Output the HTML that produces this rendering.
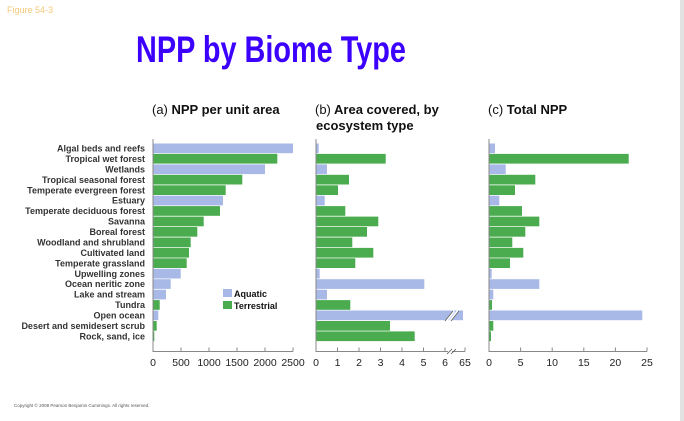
<!DOCTYPE html>
<html><head><meta charset="utf-8"><style>
html,body{margin:0;padding:0;background:#fff;}
svg{display:block;font-family:"Liberation Sans",Arial,sans-serif;}
</style></head><body>
<svg width="684" height="421" viewBox="0 0 684 421" xmlns="http://www.w3.org/2000/svg">
<rect x="680" y="0" width="4" height="421" fill="#e2e2e2"/>
<text x="7" y="13" font-size="9" fill="#f6c878">Figure 54-3</text>
<text x="271" y="62" font-size="37" font-weight="bold" fill="#3c00ff" text-anchor="middle" transform="translate(271 0) scale(0.78 1) translate(-271 0)">NPP by Biome Type</text>

<g font-weight="bold" fill="#111">
<text x="152" y="114" font-size="13"><tspan font-weight="normal">(a)</tspan> NPP per unit area</text>
<text x="315" y="114" font-size="13"><tspan font-weight="normal">(b)</tspan> Area covered, by</text>
<text x="316" y="130" font-size="13">ecosystem type</text>
<text x="488" y="114" font-size="13"><tspan font-weight="normal">(c)</tspan> Total NPP</text>
</g>

<g font-size="9" font-weight="bold" fill="#333" text-anchor="end">
<text x="145" y="151.5">Algal beds and reefs</text>
<text x="145" y="162">Tropical wet forest</text>
<text x="145" y="172.4">Wetlands</text>
<text x="145" y="182.8">Tropical seasonal forest</text>
<text x="145" y="193.3">Temperate evergreen forest</text>
<text x="145" y="203.7">Estuary</text>
<text x="145" y="214.1">Temperate deciduous forest</text>
<text x="145" y="224.6">Savanna</text>
<text x="145" y="235">Boreal forest</text>
<text x="145" y="245.5">Woodland and shrubland</text>
<text x="145" y="255.9">Cultivated land</text>
<text x="145" y="266.3">Temperate grassland</text>
<text x="145" y="276.8">Upwelling zones</text>
<text x="145" y="287.2">Ocean neritic zone</text>
<text x="145" y="297.7">Lake and stream</text>
<text x="145" y="308.1">Tundra</text>
<text x="145" y="318.5">Open ocean</text>
<text x="145" y="329">Desert and semidesert scrub</text>
<text x="145" y="339.4">Rock, sand, ice</text>
</g>

<!-- Panel a -->
<g>
<rect x="153" y="143.5" width="140" height="9.7" fill="#a8b9e8"/>
<rect x="153" y="153.9" width="124.3" height="9.7" fill="#4aac4e"/>
<rect x="153" y="164.4" width="112" height="9.7" fill="#a8b9e8"/>
<rect x="153" y="174.8" width="89.3" height="9.7" fill="#4aac4e"/>
<rect x="153" y="185.3" width="72.7" height="9.7" fill="#4aac4e"/>
<rect x="153" y="195.7" width="70" height="9.7" fill="#a8b9e8"/>
<rect x="153" y="206.1" width="67" height="9.7" fill="#4aac4e"/>
<rect x="153" y="216.6" width="50.7" height="9.7" fill="#4aac4e"/>
<rect x="153" y="227.0" width="44.3" height="9.7" fill="#4aac4e"/>
<rect x="153" y="237.5" width="37.7" height="9.7" fill="#4aac4e"/>
<rect x="153" y="247.9" width="36" height="9.7" fill="#4aac4e"/>
<rect x="153" y="258.3" width="33.7" height="9.7" fill="#4aac4e"/>
<rect x="153" y="268.8" width="27.7" height="9.7" fill="#a8b9e8"/>
<rect x="153" y="279.2" width="17.7" height="9.7" fill="#a8b9e8"/>
<rect x="153" y="289.7" width="13" height="9.7" fill="#a8b9e8"/>
<rect x="153" y="300.1" width="6.7" height="9.7" fill="#4aac4e"/>
<rect x="153" y="310.5" width="5.3" height="9.7" fill="#a8b9e8"/>
<rect x="153" y="321.0" width="3.7" height="9.7" fill="#4aac4e"/>
<rect x="153" y="331.4" width="1.3" height="9.7" fill="#4aac4e"/>
<path d="M153 139V351.5H293M181 351.5v-4M209 351.5v-4M237 351.5v-4M265 351.5v-4M293 351.5v-4" fill="none" stroke="#888" stroke-width="1"/>
</g>

<!-- Panel b -->
<g>
<rect x="316" y="143.5" width="2.7" height="9.7" fill="#a8b9e8"/>
<rect x="316" y="153.9" width="69.7" height="9.7" fill="#4aac4e"/>
<rect x="316" y="164.4" width="11" height="9.7" fill="#a8b9e8"/>
<rect x="316" y="174.8" width="33" height="9.7" fill="#4aac4e"/>
<rect x="316" y="185.3" width="22" height="9.7" fill="#4aac4e"/>
<rect x="316" y="195.7" width="8.7" height="9.7" fill="#a8b9e8"/>
<rect x="316" y="206.1" width="29.3" height="9.7" fill="#4aac4e"/>
<rect x="316" y="216.6" width="62.3" height="9.7" fill="#4aac4e"/>
<rect x="316" y="227.0" width="51" height="9.7" fill="#4aac4e"/>
<rect x="316" y="237.5" width="36.3" height="9.7" fill="#4aac4e"/>
<rect x="316" y="247.9" width="57.3" height="9.7" fill="#4aac4e"/>
<rect x="316" y="258.3" width="39.3" height="9.7" fill="#4aac4e"/>
<rect x="316" y="268.8" width="3.7" height="9.7" fill="#a8b9e8"/>
<rect x="316" y="279.2" width="108.3" height="9.7" fill="#a8b9e8"/>
<rect x="316" y="289.7" width="11" height="9.7" fill="#a8b9e8"/>
<rect x="316" y="300.1" width="34.3" height="9.7" fill="#4aac4e"/>
<rect x="316" y="310.5" width="147" height="9.7" fill="#a8b9e8"/>
<rect x="316" y="321.0" width="74" height="9.7" fill="#4aac4e"/>
<rect x="316" y="331.4" width="98.7" height="9.7" fill="#4aac4e"/>
<path d="M446 321L454 311M450 321L458 311" stroke="#fff" stroke-width="2.5"/>
<path d="M445 321L453 311M451 321L459 311" stroke="#555" stroke-width="0.8"/>
<path d="M316 139V351.5H448M452 351.5H465M337.5 351.5v-4M359 351.5v-4M380.5 351.5v-4M402 351.5v-4M423.5 351.5v-4M445 351.5v-4M465 351.5v-4" fill="none" stroke="#888" stroke-width="1"/>
<path d="M447 354L452 349M451 354L456 349" stroke="#555" stroke-width="0.8"/>
</g>

<!-- Panel c -->
<g>
<rect x="489" y="143.5" width="6" height="9.7" fill="#a8b9e8"/>
<rect x="489" y="153.9" width="139.7" height="9.7" fill="#4aac4e"/>
<rect x="489" y="164.4" width="16.7" height="9.7" fill="#a8b9e8"/>
<rect x="489" y="174.8" width="46.3" height="9.7" fill="#4aac4e"/>
<rect x="489" y="185.3" width="26" height="9.7" fill="#4aac4e"/>
<rect x="489" y="195.7" width="10.3" height="9.7" fill="#a8b9e8"/>
<rect x="489" y="206.1" width="33" height="9.7" fill="#4aac4e"/>
<rect x="489" y="216.6" width="50.3" height="9.7" fill="#4aac4e"/>
<rect x="489" y="227.0" width="36.3" height="9.7" fill="#4aac4e"/>
<rect x="489" y="237.5" width="23.3" height="9.7" fill="#4aac4e"/>
<rect x="489" y="247.9" width="34.3" height="9.7" fill="#4aac4e"/>
<rect x="489" y="258.3" width="21" height="9.7" fill="#4aac4e"/>
<rect x="489" y="268.8" width="2.7" height="9.7" fill="#a8b9e8"/>
<rect x="489" y="279.2" width="50.3" height="9.7" fill="#a8b9e8"/>
<rect x="489" y="289.7" width="4.3" height="9.7" fill="#a8b9e8"/>
<rect x="489" y="300.1" width="3" height="9.7" fill="#4aac4e"/>
<rect x="489" y="310.5" width="153.3" height="9.7" fill="#a8b9e8"/>
<rect x="489" y="321.0" width="4.3" height="9.7" fill="#4aac4e"/>
<rect x="489" y="331.4" width="2" height="9.7" fill="#4aac4e"/>
<path d="M489 139V351.5H647M520.6 351.5v-4M552.2 351.5v-4M583.8 351.5v-4M615.4 351.5v-4M647 351.5v-4" fill="none" stroke="#888" stroke-width="1"/>
</g>

<g font-size="10.5" fill="#222" text-anchor="middle">
<text x="153" y="366">0</text><text x="181" y="366">500</text><text x="209" y="366">1000</text><text x="237" y="366">1500</text><text x="265" y="366">2000</text><text x="293" y="366">2500</text>
<text x="316" y="366">0</text><text x="337.5" y="366">1</text><text x="359" y="366">2</text><text x="380.5" y="366">3</text><text x="402" y="366">4</text><text x="423.5" y="366">5</text><text x="445" y="366">6</text><text x="465" y="366">65</text>
<text x="489" y="366">0</text><text x="520.6" y="366">5</text><text x="552.2" y="366">10</text><text x="583.8" y="366">15</text><text x="615.4" y="366">20</text><text x="647" y="366">25</text>
</g>

<rect x="223" y="289" width="9" height="8" fill="#a8b9e8"/>
<rect x="223" y="301" width="9" height="8" fill="#4aac4e"/>
<g font-size="9" font-weight="bold" fill="#111">
<text x="234" y="297">Aquatic</text>
<text x="234" y="309">Terrestrial</text>
</g>

<text x="14" y="407" font-size="4.5" fill="#555">Copyright © 2008 Pearson Benjamin Cummings. All rights reserved.</text>
</svg>
</body></html>
